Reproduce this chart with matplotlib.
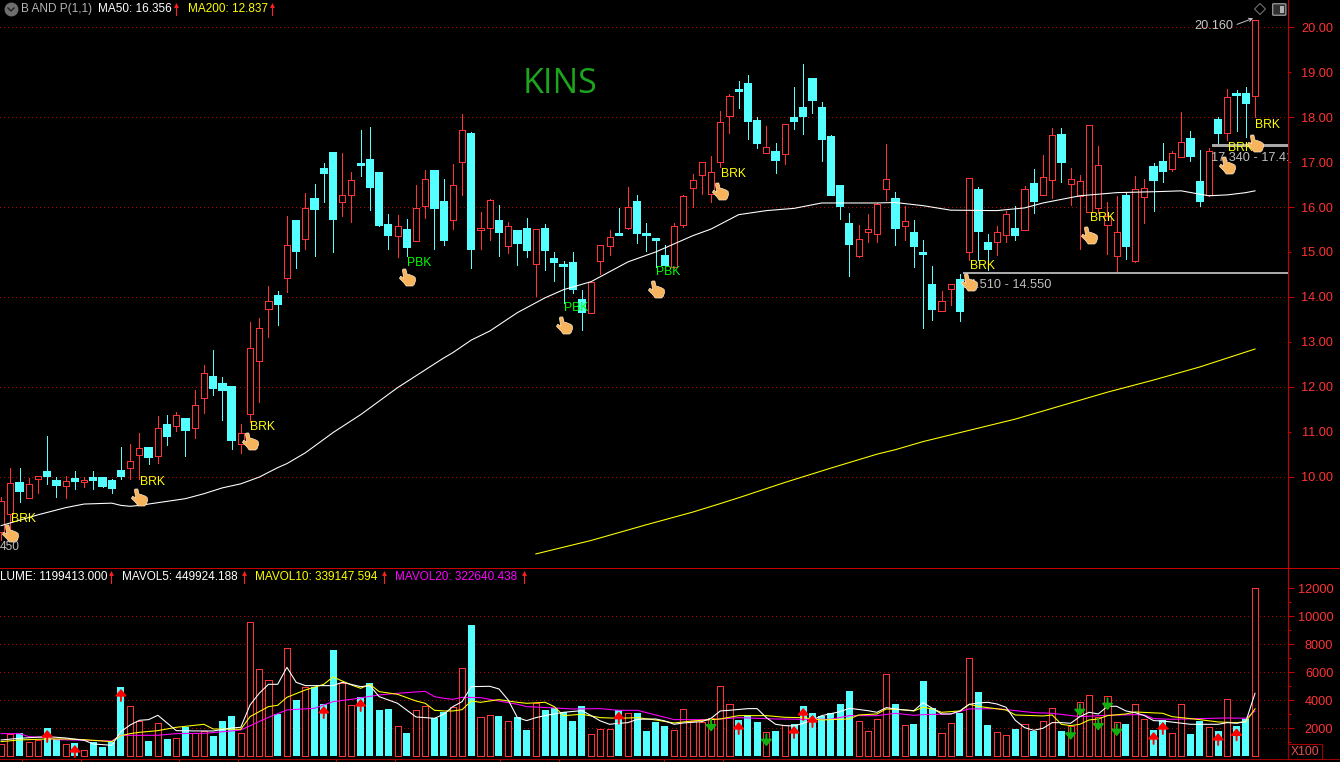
import matplotlib
matplotlib.use("Agg")
import numpy as np
import matplotlib.pyplot as plt
from matplotlib.path import Path
from matplotlib.patches import Polygon, FancyBboxPatch, Rectangle
from matplotlib.lines import Line2D

plt.rcParams['font.family'] = ['Liberation Sans', 'DejaVu Sans']
plt.rcParams['lines.scale_dashes'] = False

# price candles
opens = [8.77, 9.16, 9.86, 9.53, 9.95, 10.10, 9.90, 9.80, 9.95, 9.87, 9.97, 9.97, 9.90, 10.13, 10.20, 10.49, 10.64,
         10.45, 11.15, 11.12, 11.28, 11.09, 11.76, 12.22, 12.07, 12.00, 10.72, 11.40, 12.57, 13.74, 14.02, 14.43,
         15.69, 15.28, 16.18, 16.85, 17.20, 16.12, 16.26, 16.96, 17.05, 16.76, 15.60, 15.36, 15.49, 15.25, 16.03,
         16.80, 16.11, 15.70, 17.00, 17.63, 15.49, 15.54, 15.69, 15.14, 15.47, 15.51, 14.74, 15.51, 14.85, 14.71,
         14.76, 13.93, 13.65, 14.79, 15.14, 15.40, 15.54, 16.11, 15.40, 15.29, 14.92, 14.66, 15.61, 16.42, 16.72,
         16.28, 17.00, 18.02, 18.61, 18.74, 17.92, 17.21, 17.23, 17.19, 17.98, 18.21, 18.85, 18.21, 17.56, 16.47,
         15.63, 14.90, 15.44, 15.41, 16.41, 16.18, 15.57, 15.42, 14.98, 14.27, 13.69, 14.17, 14.38, 15.00, 16.38,
         15.20, 15.22, 15.37, 15.51, 15.49, 16.52, 16.26, 16.60, 17.61, 16.51, 16.24, 15.89, 15.97, 15.60, 14.90,
         16.25, 14.79, 16.23, 16.89, 17.01, 16.85, 17.11, 17.52, 16.56, 16.26, 17.94, 17.64, 18.52, 18.52, 18.48]
closes = [9.46, 9.85, 9.69, 9.83, 10.01, 10.01, 9.81, 9.90, 9.90, 9.92, 9.92, 9.79, 9.75, 10.01, 10.34, 10.63, 10.44,
          11.08, 10.91, 11.37, 11.04, 11.59, 12.30, 11.98, 11.93, 10.82, 10.96, 12.86, 13.31, 13.91, 13.85, 15.15,
          15.02, 15.98, 15.96, 16.76, 15.74, 16.27, 16.60, 16.94, 16.45, 15.60, 15.38, 15.57, 15.11, 15.97, 16.62,
          15.98, 15.27, 16.49, 17.71, 15.07, 15.53, 16.15, 15.45, 15.57, 15.20, 15.05, 15.51, 15.05, 14.78, 14.69,
          14.18, 13.67, 14.33, 15.15, 15.33, 15.38, 16.00, 15.42, 15.38, 15.27, 14.71, 15.58, 16.24, 16.60, 17.00,
          16.78, 17.89, 18.47, 18.59, 17.92, 17.43, 17.33, 17.05, 17.84, 17.92, 18.03, 18.38, 17.52, 16.27, 16.03,
          15.18, 15.29, 15.51, 16.07, 16.62, 15.54, 15.68, 15.13, 14.96, 13.73, 13.91, 14.28, 13.69, 16.64, 15.47,
          15.07, 15.44, 15.84, 15.38, 16.40, 16.14, 16.66, 17.60, 17.01, 16.63, 16.57, 17.82, 16.93, 15.80, 15.44,
          15.14, 16.40, 16.43, 16.60, 16.80, 17.20, 17.44, 17.14, 16.14, 17.24, 17.65, 18.45, 18.50, 18.32, 20.16]
highs = [9.55, 10.19, 10.19, 9.96, 10.01, 10.90, 9.99, 10.01, 10.13, 9.99, 10.13, 9.97, 9.95, 10.66, 10.73, 10.97, 10.64,
         11.35, 11.38, 11.44, 11.28, 11.93, 12.49, 12.82, 12.22, 12.00, 11.17, 13.45, 13.54, 14.25, 14.13, 15.80,
         15.69, 16.32, 16.52, 16.98, 17.20, 17.20, 16.78, 17.72, 17.78, 16.76, 15.85, 15.83, 15.74, 16.49, 16.83,
         16.80, 16.62, 16.96, 18.07, 17.67, 15.89, 16.18, 16.05, 15.67, 15.47, 15.76, 15.51, 15.62, 15.00, 14.80,
         15.00, 14.16, 14.33, 15.16, 15.49, 15.98, 16.45, 16.27, 15.65, 15.31, 15.16, 15.65, 16.27, 16.74, 17.00,
         17.14, 18.14, 18.52, 18.81, 18.94, 18.01, 17.81, 17.43, 17.85, 18.67, 19.19, 18.85, 18.34, 17.61, 16.47,
         15.87, 15.60, 15.85, 16.09, 17.41, 16.34, 16.03, 15.72, 15.27, 14.69, 14.13, 14.29, 14.51, 16.65, 16.45,
         15.40, 15.58, 15.91, 16.03, 16.47, 16.85, 17.16, 17.76, 17.76, 16.87, 16.72, 17.83, 17.36, 16.11, 16.25,
         16.32, 16.69, 16.63, 16.98, 17.43, 17.25, 18.12, 17.70, 17.27, 17.32, 18.01, 18.63, 18.61, 18.67, 20.16]
lows = [8.59, 8.81, 9.44, 9.53, 9.64, 9.84, 9.55, 9.52, 9.72, 9.77, 9.72, 9.77, 9.64, 9.95, 9.95, 9.95, 10.28,
        10.30, 10.71, 11.02, 10.46, 10.86, 11.42, 11.82, 11.26, 10.62, 10.53, 11.22, 11.66, 13.11, 13.38, 14.11,
        14.65, 15.07, 14.92, 16.12, 15.00, 15.80, 15.67, 16.69, 15.94, 15.58, 15.07, 14.89, 14.92, 15.25, 15.76,
        15.07, 15.16, 15.51, 16.27, 14.65, 15.07, 15.27, 14.92, 14.98, 14.71, 14.89, 14.02, 14.60, 14.36, 13.87,
        14.09, 13.27, 13.65, 14.51, 14.94, 15.38, 15.51, 15.20, 15.02, 14.67, 14.71, 14.65, 15.56, 16.00, 16.29,
        16.12, 16.89, 17.65, 18.21, 17.52, 17.32, 17.21, 16.76, 16.96, 17.74, 17.63, 18.10, 17.03, 16.27, 15.74,
        14.47, 14.89, 15.23, 15.23, 16.16, 15.16, 15.27, 14.67, 13.31, 13.49, 13.69, 13.82, 13.47, 14.83, 14.83,
        14.60, 14.94, 15.23, 15.27, 15.49, 15.87, 16.27, 16.20, 16.56, 16.05, 15.07, 15.89, 15.87, 14.96, 14.56,
        14.85, 14.78, 15.65, 15.92, 16.56, 16.81, 17.12, 17.03, 16.03, 16.25, 17.43, 17.50, 17.69, 17.56, 18.00]

# moving averages: candle index and value at the points read
ma50_idx = [0, 4, 7, 9, 12, 13, 14, 15, 18, 20, 22, 24, 26, 28, 30, 31, 33, 36, 39, 43, 48, 49, 51, 53, 56, 59, 61, 64,
            68, 71, 73, 75, 77, 80, 83, 86, 89, 95, 97, 100, 103, 108, 111, 113, 117, 121, 125, 128, 131, 133, 135, 136]
ma50_val = [8.91, 9.15, 9.31, 9.39, 9.41, 9.36, 9.34, 9.36, 9.45, 9.51, 9.62, 9.75, 9.84, 9.99, 10.20, 10.29, 10.53,
            10.98, 11.38, 11.98, 12.64, 12.76, 13.04, 13.24, 13.65, 13.98, 14.16, 14.34, 14.78, 15.00, 15.18, 15.36,
            15.51, 15.83, 15.92, 15.97, 16.09, 16.09, 16.10, 16.03, 15.93, 15.92, 15.98, 16.09, 16.25, 16.32, 16.34,
            16.36, 16.25, 16.27, 16.32, 16.36]
ma200_idx = [58, 64, 70, 75, 78, 80, 85, 90, 95, 97, 100, 105, 110, 115, 120, 125, 130, 136]
ma200_val = [8.28, 8.58, 8.93, 9.21, 9.40, 9.53, 9.87, 10.19, 10.50, 10.60, 10.78, 11.03, 11.28, 11.58, 11.88, 12.15,
             12.44, 12.84]

# volume in units of x100
volumes = [880, 1620, 1667, 1000, 1167, 2024, 1214, 857, 952, 429, 1048, 667, 1024, 4952, 3571, 2548, 1095, 2357, 1238,
           1286, 2071, 1643, 1786, 1452, 2524, 2881, 1643, 9571, 6214, 5429, 3024, 7714, 4024, 4929, 4976, 3738, 7595,
           5214, 3667, 4238, 5238, 3310, 3381, 2143, 1667, 3286, 3571, 2714, 3167, 3500, 6286, 9381, 2786, 2929, 2881,
           2500, 2810, 1881, 3810, 3310, 3429, 3167, 2524, 3595, 1571, 1929, 1952, 3333, 3071, 3095, 1810, 2476, 2167,
           1857, 3357, 2524, 2429, 2762, 5000, 3714, 2595, 2952, 2452, 1714, 1810, 2238, 2310, 3595, 3095, 2857, 3095,
           3738, 4667, 2500, 1786, 2643, 5857, 3738, 2214, 2310, 5381, 3429, 1643, 2357, 3095, 7000, 4595, 2238, 1714,
           1500, 1952, 2286, 1833, 2500, 3429, 1810, 2167, 3857, 4357, 2833, 4286, 2429, 2310, 3714, 2643, 1881, 2595,
           1643, 3714, 1595, 2524, 2071, 1810, 4071, 2143, 2667, 11994]

mavol5_idx = [0, 2, 5, 7, 9, 10, 12, 13, 14, 15, 16, 17, 19, 21, 23, 25, 26, 27, 28, 29, 30, 31, 32, 33, 36, 37, 39, 40,
              41, 43, 45, 47, 48, 49, 50, 51, 53, 54, 55, 56, 57, 58, 59, 61, 63, 64, 65, 66, 67, 68, 69, 71, 72, 73,
              74, 76, 77, 78, 79, 81, 82, 83, 84, 85, 86, 87, 88, 89, 91, 92, 94, 95, 96, 97, 98, 99, 100, 101, 102,
              103, 104, 105, 106, 107, 108, 109, 110, 111, 112, 113, 114, 115, 116, 117, 118, 119, 120, 121, 122, 123,
              124, 125, 126, 129, 132, 133, 134, 135, 136]
mavol5_val = [1167, 1286, 1405, 1310, 1143, 881, 786, 1762, 2238, 2571, 2619, 2929, 1833, 1810, 1810, 2024, 2071, 3667,
              4500, 5143, 5143, 6357, 5286, 5048, 5048, 5286, 4976, 5048, 4262, 3786, 2810, 2714, 3000, 3548, 3905,
              4976, 5000, 4810, 4024, 2762, 2548, 2762, 2905, 3143, 3262, 2905, 2524, 2286, 2357, 2405, 2643, 2667,
              2524, 2286, 2381, 2476, 2714, 3238, 3286, 3405, 3405, 2762, 2286, 2190, 2167, 2357, 2595, 2905, 3190,
              3429, 3262, 3143, 3476, 3381, 3310, 3262, 3833, 3429, 3024, 3024, 3238, 3714, 3810, 3857, 3738, 3500,
              2571, 2048, 1857, 2000, 2405, 2405, 2357, 2833, 3143, 3024, 3571, 3571, 3238, 3119, 2905, 2548, 2524,
              2286, 2286, 2405, 2357, 2476, 4499]
mavol10_idx = [0, 2, 5, 7, 9, 12, 13, 14, 15, 17, 19, 22, 23, 26, 27, 29, 30, 31, 33, 35, 36, 38, 39, 40, 41, 43, 45, 46,
               47, 48, 49, 50, 51, 52, 54, 56, 57, 59, 60, 61, 63, 65, 67, 69, 71, 73, 75, 78, 80, 83, 85, 87, 89, 92,
               93, 95, 96, 97, 98, 99, 100, 101, 102, 104, 105, 106, 107, 109, 110, 113, 114, 115, 116, 117, 118, 119,
               120, 122, 123, 126, 127, 128, 130, 132, 134, 135, 136]
mavol10_val = [1048, 1167, 1238, 1238, 1190, 1048, 1476, 1619, 1714, 1833, 2071, 2286, 1952, 1929, 2833, 3548, 3643,
               4214, 4738, 5143, 5667, 5095, 4857, 5143, 4619, 4429, 3952, 3786, 3286, 3238, 3238, 3333, 3952, 3857,
               4048, 3857, 3786, 3857, 3548, 2905, 3000, 2762, 2714, 2762, 2595, 2381, 2524, 2667, 2905, 2905, 2786,
               2762, 2595, 2667, 2952, 3024, 3381, 3357, 3310, 3238, 3500, 3381, 3143, 3238, 3714, 3571, 3476, 3310,
               2952, 2881, 2952, 2286, 2190, 2286, 2595, 2667, 2905, 3024, 3167, 3071, 2833, 2762, 2619, 2452, 2405,
               2476, 3391]
mavol20_idx = [0, 2, 3, 5, 6, 9, 12, 13, 17, 19, 22, 25, 26, 29, 31, 34, 36, 38, 41, 43, 46, 47, 48, 49, 50, 52, 53, 56,
               57, 60, 62, 65, 67, 69, 71, 73, 77, 80, 84, 87, 90, 92, 95, 97, 99, 100, 103, 105, 108, 110, 112, 114,
               117, 120, 123, 124, 125, 127, 133, 135, 136]
mavol20_val = [1619, 1619, 1405, 1333, 1190, 1143, 1095, 1500, 1500, 1619, 1643, 1810, 1881, 2786, 3310, 3429, 3905, 4071,
               4381, 4500, 4643, 4262, 4143, 4071, 4214, 4190, 4071, 3714, 3548, 3452, 3381, 3405, 3286, 3286, 2952,
               2619, 2619, 2762, 2667, 2643, 2643, 2905, 2905, 3071, 2929, 2976, 3024, 3381, 3405, 3262, 3119, 3071,
               2833, 2929, 2976, 2952, 2690, 2643, 2738, 2714, 3226]

# signal arrows on the volume bars
up_arrows = [5, 8, 13, 35, 39, 67, 80, 86, 87, 88, 125, 126, 132, 134]
down_arrows = [77, 83, 116, 117, 119, 120, 121]

# BRK / PBK labels with their hand icons
signal_idx = [1, 15, 27, 44, 61, 71, 78, 105, 118, 133, 136]
signal_txt = ['BRK', 'BRK', 'BRK', 'PBK', 'PBK', 'PBK', 'BRK', 'BRK', 'BRK', 'BRK', 'BRK']
signal_lbl = [9.06, 9.89, 11.11, 14.76, 13.76, 14.56, 16.74, 14.69, 15.76, 17.32, 17.83]
signal_hand = [8.75, 9.55, 10.80, 14.45, 13.38, 14.18, 16.36, 14.34, 15.38, 16.94, 17.43]

# support zones
zone_start = [104.3, 131.3]
zone_low = [14.51, 17.34]
zone_high = [14.55, 17.41]
zone_txt = ['14.510 - 14.550', '17.340 - 17.410']

price_major = [10, 12, 14, 16, 18, 20]
price_minor = [11, 13, 15, 17, 19]
vol_major = [2000, 4000, 6000, 8000, 10000, 12000]
vol_minor = [1000, 3000, 5000, 7000, 9000, 11000]
vol_grid = [2000, 4000, 6000, 8000, 10000]
date_ticks = [2.3, 8.7, 19.3, 25.7, 36.3, 42.7, 54.1, 60.5, 71.9, 78.3]

W, H = 1340, 762
RED = '#FF3333'
CYAN = '#54FFFF'
AXIS = '#C80000'
GRID = '#B00000'
DOTS = (0, (0.72, 2.16))
THIN = 0.72

opens = np.array(opens)
closes = np.array(closes)
highs = np.array(highs)
lows = np.array(lows)
volumes = np.array(volumes)
idx = np.arange(len(opens))
is_up = closes >= opens
red_idx = idx[is_up]
cyan_idx = idx[~is_up]

fig = plt.figure(figsize=(W / 100, H / 100), dpi=100, facecolor='black')
ax = fig.add_axes([0, (H - 568.3) / H, 1288.3 / W, 568.3 / H], facecolor='black')
vol = fig.add_axes([0, (H - 759) / H, 1288.3 / W, (759 - 568.3) / H], facecolor='black')

for a in (ax, vol):
    a.set_xlim(-0.119, 139.61)
    for s in ('top', 'left', 'bottom'):
        a.spines[s].set_visible(False)
    a.spines['right'].set_color(AXIS)
    a.spines['right'].set_linewidth(0.8)
    a.yaxis.tick_right()

ax.set_ylim(7.96, 20.607)
vol.set_ylim(-193, 13429)
ax.set_xticks([])
vol.set_xticks(date_ticks, labels=[])
vol.tick_params(axis='x', color=AXIS, length=2, width=0.72)

# right hand scales, labels end at the same x
ax.set_yticks(price_major, labels=[f'{p:.2f}' for p in price_major])
ax.set_yticks(price_minor, labels=[f'{p:.2f}' for p in price_minor], minor=True)
vol.set_yticks(vol_major, labels=[str(v) for v in vol_major])
vol.set_yticks(vol_minor, labels=[], minor=True)
for a in (ax, vol):
    a.tick_params(axis='y', which='major', color=AXIS, labelcolor=RED, length=4.3, width=0.72, pad=28.1, labelsize=9.2)
    a.tick_params(axis='y', which='minor', color=AXIS, labelcolor=RED, length=2.2, width=0.72, pad=30.2, labelsize=9.2)
    for lab in a.get_yticklabels(which='both'):
        lab.set_ha('right')

for p in price_major:
    ax.axhline(p, color=GRID, lw=0.72, ls=DOTS, antialiased=False, zorder=1)
for v in vol_grid:
    vol.axhline(v, color=GRID, lw=0.72, ls=DOTS, antialiased=False, zorder=1)

# candles
ax.vlines(red_idx, lows[is_up], highs[is_up], color=RED, lw=THIN, antialiased=False, zorder=2)
ax.vlines(cyan_idx, lows[~is_up], highs[~is_up], color=CYAN, lw=THIN, antialiased=False, zorder=2)
ax.bar(red_idx, (closes - opens)[is_up], bottom=opens[is_up], width=0.66, facecolor='black', edgecolor=RED,
       linewidth=THIN, antialiased=False, zorder=3)
ax.bar(cyan_idx, (opens - closes)[~is_up], bottom=closes[~is_up], width=0.68, facecolor=CYAN, edgecolor=CYAN,
       linewidth=0.3, antialiased=False, zorder=3)

ax.plot(ma50_idx, ma50_val, color='white', lw=0.78, zorder=4)
ax.plot(ma200_idx, ma200_val, color='#FFFF00', lw=0.78, zorder=4)

# support zones
for s, lo, hi, t in zip(zone_start, zone_low, zone_high, zone_txt):
    ax.fill_between([s, 139.61], lo, hi, color='#A8A8A8', lw=0, antialiased=False, zorder=5)
    ax.text(s - 0.1, lo - 0.12, t, color='#C0C0C0', fontsize=9.2, va='top', ha='left', zorder=5, clip_on=True)

# hand icons and labels
hand = Path([(-0.5, 1.0), (-0.2, 1.0), (-0.05, 0.4), (0.2, 0.35), (0.45, 0.25), (0.7, 0.15), (0.9, 0.0),
             (0.95, -0.35), (0.8, -0.8), (0.6, -1.0), (-0.15, -1.0), (-0.45, -0.6), (-0.95, -0.1), (-0.8, 0.15),
             (-0.45, -0.05), (-0.6, 0.9), (-0.5, 1.0)], closed=True)
ax.scatter(signal_idx, signal_hand, marker=hand, s=150, facecolor='#F8B45C', edgecolor='#FFE8C8', linewidth=0.5, zorder=7)
for i, t, p in zip(signal_idx, signal_txt, signal_lbl):
    ax.text(i + 0.05, p, t, color='#FFFF00' if t == 'BRK' else '#00FF00', fontsize=8.7, va='center', ha='left', zorder=6)

ax.text(60.6, 18.73, 'KINS', color='#1CA51C', fontsize=24.5, family='Open Sans', ha='center', va='center', zorder=6)

# top price label with its small pointer
ax.annotate('20.160', xy=(135.8, 20.2), xytext=(133.6, 20.03), color='#C8C8C8', fontsize=9.2, ha='right', va='center',
            arrowprops=dict(arrowstyle='->', color='#C8C8C8', lw=0.7, shrinkA=1, shrinkB=0, mutation_scale=6,
                            relpos=(1, 0.5)), zorder=6)

# volume panel
vol.bar(red_idx, volumes[is_up], width=0.66, facecolor='black', edgecolor=RED, linewidth=THIN, antialiased=False, zorder=2)
vol.bar(cyan_idx, volumes[~is_up], width=0.76, facecolor=CYAN, edgecolor=CYAN, linewidth=0, antialiased=False, zorder=2)
vol.plot(mavol20_idx, mavol20_val, color='#FF00FF', lw=0.78, zorder=3)
vol.plot(mavol10_idx, mavol10_val, color='#FFFF00', lw=0.78, zorder=4)
vol.plot(mavol5_idx, mavol5_val, color='white', lw=0.78, zorder=5)

arrow_style = '-|>,head_length=0.42,head_width=0.36'
for i in up_arrows:
    vol.annotate('', xy=(i, volumes[i] - 143), xytext=(0, -12), textcoords='offset pixels', zorder=6,
                 arrowprops=dict(arrowstyle=arrow_style, color='#FF0000', lw=1.4, mutation_scale=9, shrinkA=0, shrinkB=0))
for i in down_arrows:
    vol.annotate('', xy=(i, volumes[i] - 1000), xytext=(0, 12), textcoords='offset pixels', zorder=6,
                 arrowprops=dict(arrowstyle=arrow_style, color='#10B010', lw=1.4, mutation_scale=9, shrinkA=0, shrinkB=0))


def put(x, y, s, color, size=8.45, ha='left'):
    fig.text(x / W, 1 - y / H, s, color=color, fontsize=size, ha=ha, va='center', zorder=10)


# header rows
put(21, 9, 'B AND P(1,1)', '#B4B4B4')
put(98, 9, 'MA50: 16.356', 'white')
put(188, 9, 'MA200: 12.837', '#FFFF00')
put(0, 577, 'LUME: 1199413.000', 'white')
put(122, 577, 'MAVOL5: 449924.188', 'white')
put(255, 577, 'MAVOL10: 339147.594', '#FFFF00')
put(395, 577, 'MAVOL20: 322640.438', '#FF00FF')
put(0, 547, '450', '#C0C0C0', 8.6)
put(1291, 752, 'X100', '#E05050', 8.8)

# small red trend arrows after the header values
for x, y in [(176, 9), (272, 9), (111, 577), (244, 577), (384, 577), (524, 577)]:
    fig.add_artist(Line2D([x / W, x / W], [1 - (y + 6) / H, 1 - (y - 5) / H], color='#FF2020', lw=0.8,
                          transform=fig.transFigure))
    fig.add_artist(Line2D([x / W], [1 - (y - 4) / H], marker='^', ms=3.5, color='#FF2020', mew=0,
                          transform=fig.transFigure))


def to_fig(x, y):
    return x / W, 1 - y / H


# chrome: separators, menu and window icons, X100 box
fig.add_artist(Line2D([0, 1], [1 - 568.3 / H] * 2, color=AXIS, lw=0.72, antialiased=False))
fig.add_artist(Line2D([0, 1], [1 - 759.3 / H] * 2, color='#A00000', lw=0.72, antialiased=False))
fig.add_artist(Rectangle(to_fig(1288.3, 759), 33.4 / W, 15 / H, fill=False, edgecolor='#A00000', lw=0.8,
                         transform=fig.transFigure))
fig.add_artist(Polygon([to_fig(1260, 3.5), to_fig(1265.5, 9), to_fig(1260, 14.5), to_fig(1254.5, 9)], closed=True,
                       fill=False, edgecolor='#707070', lw=0.8, transform=fig.transFigure))
fig.add_artist(FancyBboxPatch(to_fig(1274, 14.5), 10.5 / W, 10 / H, boxstyle='round,pad=0.001', facecolor='#303030',
                              edgecolor='#909090', lw=1.0, transform=fig.transFigure))
fig.add_artist(Rectangle(to_fig(1279.5, 13), 4 / W, 7 / H, facecolor='#B0B0B0', edgecolor='none',
                         transform=fig.transFigure))
cx, cy = to_fig(11, 9)
fig.add_artist(Line2D([cx], [cy], marker='o', ms=9, color='#6E6E6E', transform=fig.transFigure))
fig.add_artist(Line2D([8 / W, 11 / W, 14 / W], [1 - 8 / H, 1 - 11 / H, 1 - 8 / H], color='#202020', lw=1.0,
                      transform=fig.transFigure))

fig.savefig('out.png', dpi=100, facecolor='black')
